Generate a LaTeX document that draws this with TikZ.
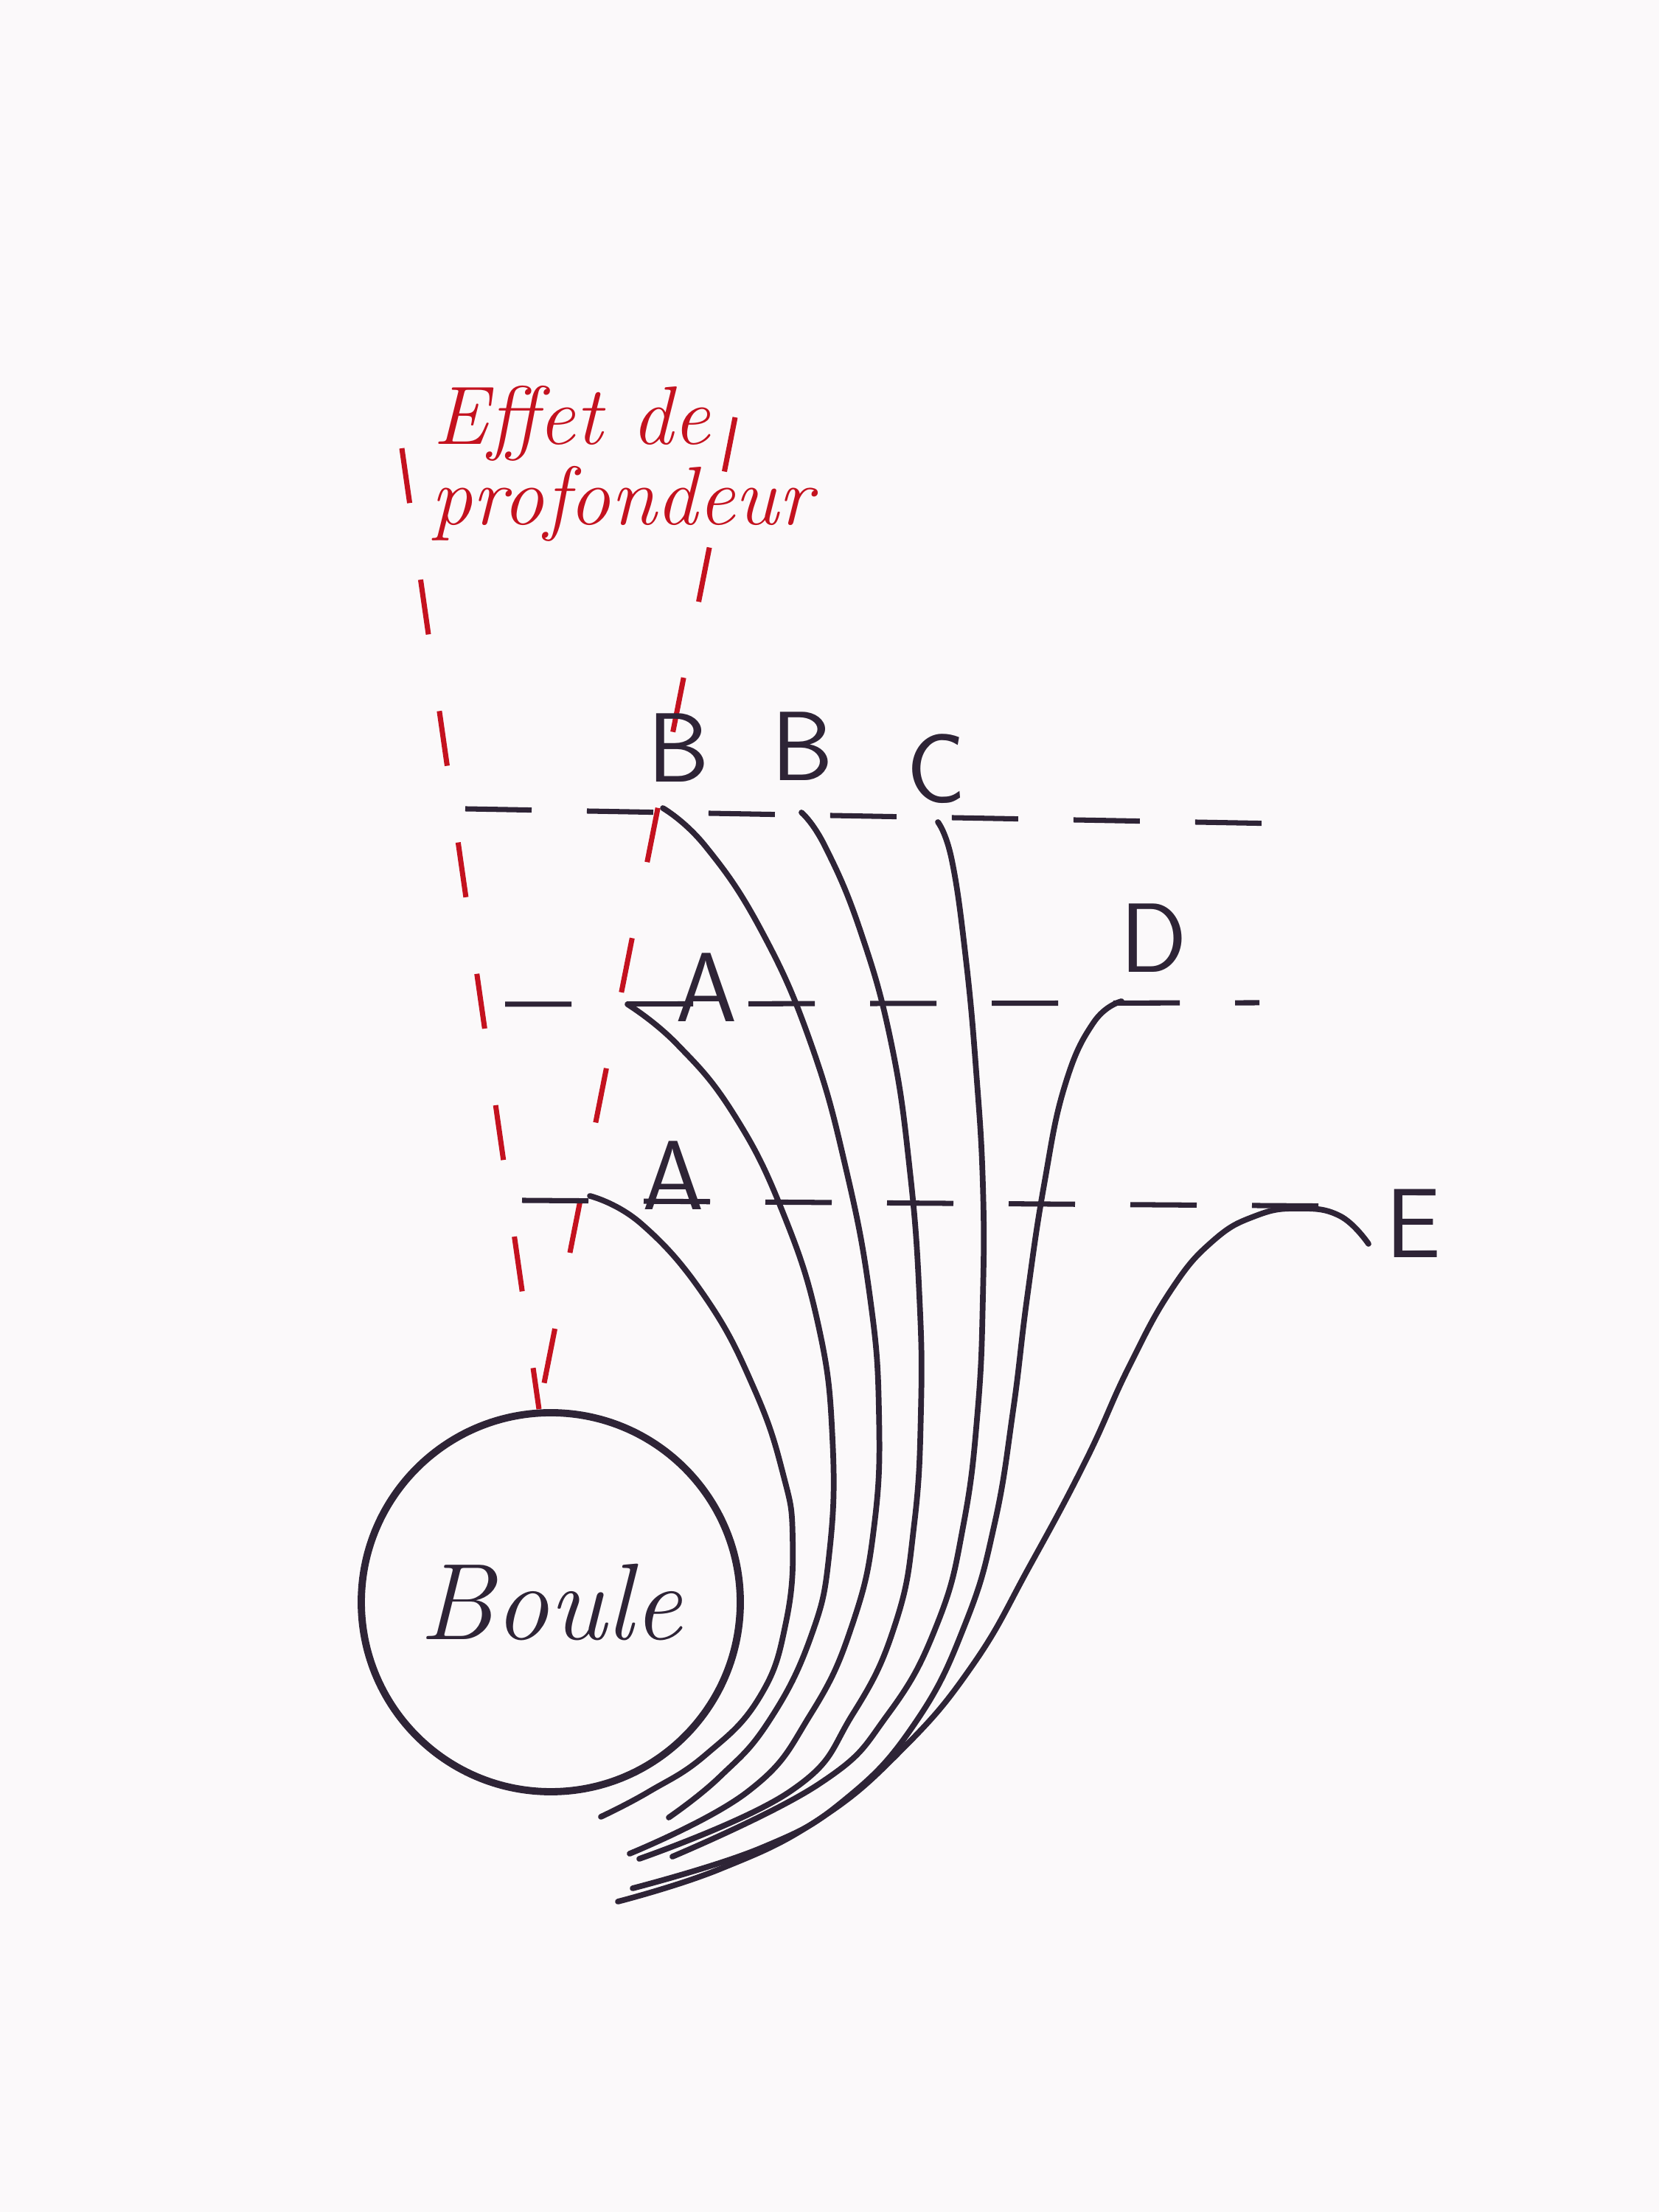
\documentclass[tikz,border=0pt]{standalone}
\usepackage{xcolor}
\definecolor{ink}{HTML}{2E2436}
\definecolor{redink}{HTML}{C4121F}
\definecolor{paper}{HTML}{FBF9FA}

\begin{document}
\begin{tikzpicture}[x=1cm, y=1cm,
  trace/.style={draw=ink, line width=2.2pt, line cap=round},
  level/.style={draw=ink, line width=2pt, dash pattern=on 0.9cm off 0.75cm},
  depth/.style={draw=redink, line width=2pt, dash pattern=on 0.75cm off 1.05cm},
  lbl/.style={font=\fontsize{38}{40}\selectfont\sffamily, text=ink, inner sep=0pt},
  redlbl/.style={font=\fontsize{32}{31}\selectfont\itshape, text=redink, inner sep=0pt}]

\fill[paper] (0,0) rectangle (22.5,30);
\useasboundingbox (0,0) rectangle (22.5,30);

% ball
\node[circle, draw=ink, line width=2.8pt, minimum size=5.14cm, inner sep=0pt,
      font=\fontsize{42}{44}\selectfont\itshape, text=ink] (boule) at (7.47,8.27) {Boule};

% depth lines
\coordinate (apex) at ([xshift=-0.16cm]boule.north);
\coordinate (redL) at (5.45,23.92);
\coordinate (redR) at (9.97,24.34);
\draw[depth] (redL) -- (apex);
\draw[depth] (redR) -- (apex);
\node[redlbl, anchor=base west] (effet) at (5.87,23.97) {Effet de};
\node[redlbl, anchor=base west] (profondeur) at (5.84,22.88) {profondeur};

% levels
\coordinate (topL) at (6.31,19.03);  \coordinate (topR) at (17.31,18.83);
\coordinate (midL) at (6.85,16.38);  \coordinate (midR) at (17.08,16.40);
\coordinate (lowL) at (7.08,13.72);  \coordinate (lowR) at (18.46,13.64);
\draw[level] (topL) -- (topR);
\draw[level] (midL) -- (midR);
\draw[level] (lowL) -- (lowR);

% trajectories
\draw[trace] plot[smooth, tension=0.75] coordinates {(8.00,13.78) (8.70,13.40) (9.57,12.40)
  (10.23,11.16) (10.62,10.01) (10.75,9.15) (10.66,8.00) (10.30,6.98) (9.57,6.20) (8.80,5.70) (8.15,5.36)};
\draw[trace] plot[smooth, tension=0.75] coordinates {(8.51,16.38) (9.18,15.84) (9.95,14.89)
  (10.62,13.55) (11.10,12.02) (11.29,10.49) (11.25,8.96) (11.00,7.81) (10.43,6.66) (9.76,5.90) (9.07,5.35)};
\draw[trace] plot[smooth, tension=0.75] coordinates {(8.99,19.04) (9.57,18.52) (10.33,17.37)
  (11.00,15.84) (11.48,14.12) (11.80,12.40) (11.92,10.87) (11.86,9.34) (11.57,8.00) (11.00,6.76) (10.14,5.70) (8.54,4.86)};
\draw[trace] plot[smooth, tension=0.75] coordinates {(10.87,18.98) (11.19,18.52) (11.67,17.37)
  (12.09,15.84) (12.34,14.12) (12.47,12.40) (12.49,10.87) (12.40,9.34) (12.15,8.00) (11.57,6.76) (10.71,5.70) (8.67,4.79)};
\draw[trace] plot[smooth, tension=0.75] coordinates {(12.72,18.85) (12.91,18.33) (13.10,16.99)
  (13.24,15.46) (13.33,13.93) (13.33,12.40) (13.26,10.87) (13.07,9.34) (12.72,8.00) (12.05,6.76) (11.10,5.80) (9.12,4.82)};
\draw[trace] plot[smooth, tension=0.75] coordinates {(15.21,16.42) (14.83,16.13) (14.44,15.27)
  (14.16,13.93) (13.93,12.40) (13.74,10.87) (13.49,9.34) (13.10,8.00) (12.43,6.66) (11.48,5.61) (10.33,4.94) (8.58,4.39)};
\draw[trace] plot[smooth, tension=0.75] coordinates {(18.56,13.13) (18.17,13.51) (17.60,13.61)
  (17.03,13.51) (16.45,13.17) (15.88,12.50) (15.30,11.44) (14.73,10.20) (13.97,8.77) (13.20,7.43)
  (12.24,6.28) (11.10,5.32) (9.76,4.65) (8.38,4.21)};

% labels
\node[lbl] (labB1) at (9.20,19.86) {B};
\node[lbl] (labB2) at (10.88,19.88) {B};
\node[lbl] (labC) at (12.70,19.57) {C};
\node[lbl] (labD) at (15.65,17.28) {D};
\node[lbl] (labA2) at (9.58,16.61) {A};
\node[lbl] (labA1) at (9.13,14.06) {A};
\node[lbl] (labE) at (19.17,13.41) {E};

\end{tikzpicture}
\end{document}
